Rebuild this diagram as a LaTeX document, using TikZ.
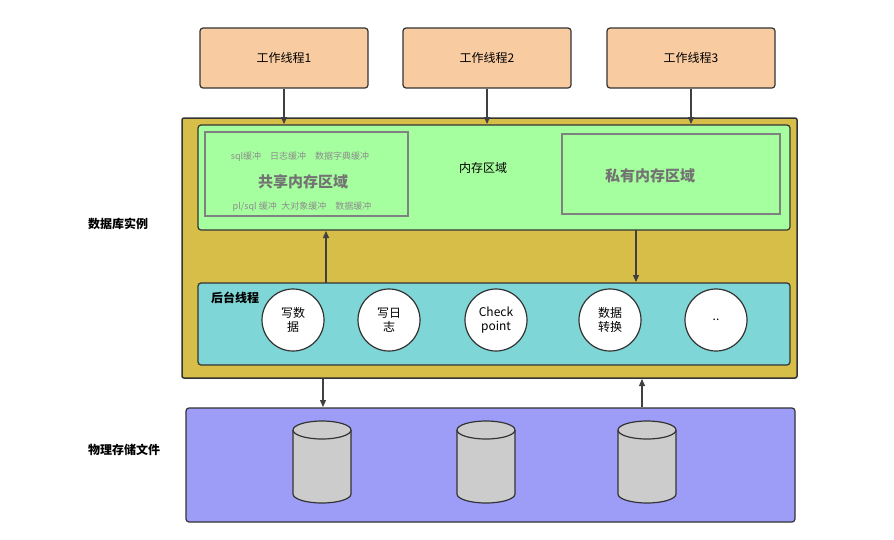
\documentclass[tikz,border=0pt]{standalone}
\usepackage{fontspec}
\setmainfont{Noto Sans CJK SC}
\usetikzlibrary{arrows.meta}
\begin{document}
\begin{tikzpicture}[x=1pt,y=-1pt,
 worker/.style={draw=black!80,line width=1.2pt,rounded corners=3pt,fill={rgb,255:red,248;green,203;blue,160},minimum width=168pt,minimum height=60pt,font=\fontsize{12}{14}\selectfont},
 circ/.style={circle,draw=black!80,line width=1.2pt,fill=white,minimum size=62pt,align=center,font=\fontsize{12}{14}\selectfont,inner sep=0pt},
 cylb/.style={draw=black!80,line width=1.2pt,fill=black!20},
 arr/.style={-{Triangle[length=7pt,width=6pt]},line width=1.3pt,draw=black!75},
 gbox/.style={draw=black!50,line width=2.5pt},
 small/.style={text=black!45,font=\fontsize{9}{10}\selectfont},
 lbl/.style={font=\bfseries\fontsize{12}{14}\selectfont}]
\useasboundingbox (0,0) rectangle (894,539);
\node[worker] (w1) at (284,58) {工作线程1};
\node[worker] (w2) at (487,58) {工作线程2};
\node[worker] (w3) at (691,58) {工作线程3};
\draw[draw=black!80,line width=1.5pt,rounded corners=2pt,fill={rgb,255:red,215;green,190;blue,72}] (182,118) rectangle (797,378);
\node[draw=black!80,line width=1.2pt,rounded corners=3pt,fill={rgb,255:red,166;green,255;blue,158},minimum width=592pt,minimum height=105pt] (mem) at (494,177.5) {};
\node[gbox,minimum width=203pt,minimum height=84pt] (shared) at (306.5,174) {};
\node[gbox,minimum width=218pt,minimum height=80pt] (priv) at (671,174) {};
\node[small] (s1) at (300,157) {sql缓冲\quad 日志缓冲\quad 数据字典缓冲};
\node[text=black!55,font=\bfseries\fontsize{15}{17}\selectfont] (s2) at (303,182) {共享内存区域};
\node[small] (s3) at (302,207) {pl/sql 缓冲\enspace 大对象缓冲\quad 数据缓冲};
\node[text=black!55,font=\bfseries\fontsize{15}{17}\selectfont] (p1) at (650,176) {私有内存区域};
\node[font=\fontsize{12}{14}\selectfont] (memt) at (483,168) {内存区域};
\node[lbl] (inst) at (118,224) {数据库实例};
\node[draw=black!80,line width=1.2pt,rounded corners=3pt,fill={rgb,255:red,126;green,214;blue,214},minimum width=592pt,minimum height=82pt] (bg) at (494,324) {};
\node[lbl] (bgt) at (235,298) {后台线程};
\node[circ] (c1) at (293,320) {写数\\据};
\node[circ] (c2) at (389,320) {写日\\志};
\node[circ] (c3) at (496,320) {Check\\point};
\node[circ] (c4) at (610,320) {数据\\转换};
\node[circ] (c5) at (716,320) {..};
\node[draw=black!80,line width=1.2pt,rounded corners=3pt,fill={rgb,255:red,157;green,157;blue,248},minimum width=609pt,minimum height=114pt] (st) at (490.5,465) {};
\node[lbl] (stt) at (124,450) {物理存储文件};
\foreach \x/\n in {322/d1,486/d2,647/d3}{
  \draw[cylb] (\x-29,430) -- (\x-29,494) arc[start angle=180,end angle=360,x radius=29,y radius=-9] -- (\x+29,430);
  \draw[cylb] (\x,430) ellipse[x radius=29,y radius=9];
  \coordinate (\n) at (\x,462);
}
\draw[arr] (w1.south) -- (284,124);
\draw[arr] (w2.south) -- (487,124);
\draw[arr] (w3.south) -- (691,124);
\draw[arr] (326,283) -- (326,231);
\draw[arr] (636,230) -- (636,282);
\draw[arr] (323,379) -- (323,407);
\draw[arr] (642,407) -- (642,379);
\end{tikzpicture}
\end{document}
